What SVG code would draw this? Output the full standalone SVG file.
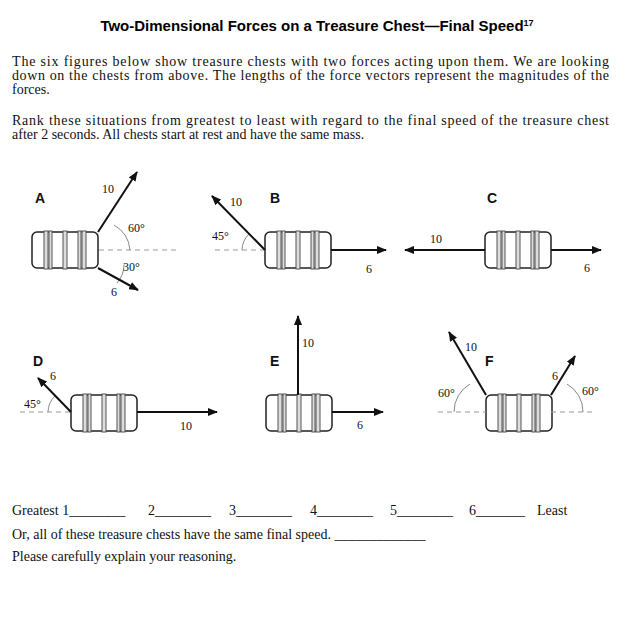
<svg xmlns="http://www.w3.org/2000/svg" width="639" height="626" viewBox="0 0 639 626">
<style>
.t{font-family:"Liberation Serif",serif;font-size:14px;fill:#111}
.s{font-family:"Liberation Serif",serif;font-size:12px;fill:#111}
.L{font-family:"Liberation Sans",sans-serif;font-size:14px;font-weight:bold;fill:#111}
.v{stroke:#111;stroke-width:2;fill:none;marker-end:url(#ah)}
.d{stroke:#999;stroke-width:1;stroke-dasharray:5,4;fill:none}
.a{stroke:#888;stroke-width:1;fill:none}
.c{fill:#fff;stroke:#222;stroke-width:1.5}
.b{fill:#ddd;stroke:#555;stroke-width:1}
</style>
<defs>
<marker id="ah" markerWidth="10" markerHeight="8" refX="9" refY="4" orient="auto" markerUnits="userSpaceOnUse" viewBox="0 0 10 8"><path d="M0,0 L10,4 L0,8 z" fill="#111"/></marker>
<g id="chest">
<rect class="c" x="0" y="0" width="66" height="36" rx="5"/>
<rect class="b" x="12" y="-1" width="4" height="38"/><rect class="b" x="17" y="-1" width="3" height="38"/>
<rect class="b" x="31" y="-1" width="4" height="38"/>
<rect class="b" x="46" y="-1" width="3" height="38"/><rect class="b" x="50" y="-1" width="4" height="38"/>
</g>
</defs>
<text x="317" y="31" text-anchor="middle" style="font-family:'Liberation Sans',sans-serif;font-size:15px;font-weight:bold">Two-Dimensional Forces on a Treasure Chest—Final Speed<tspan font-size="9" dy="-5">17</tspan></text>
<text class="t" x="12" y="66" textLength="597" lengthAdjust="spacing">The six figures below show treasure chests with two forces acting upon them. We are looking</text>
<text class="t" x="12" y="80" textLength="597" lengthAdjust="spacing">down on the chests from above. The lengths of the force vectors represent the magnitudes of the</text>
<text class="t" x="12" y="94">forces.</text>
<text class="t" x="12" y="125" textLength="597" lengthAdjust="spacing">Rank these situations from greatest to least with regard to the final speed of the treasure chest</text>
<text class="t" x="12" y="139">after 2 seconds. All chests start at rest and have the same mass.</text>
<g id="A">
<text class="L" x="35" y="203">A</text>
<use href="#chest" x="32" y="232"/>
<path class="d" d="M99,250 H180"/>
<path class="a" d="M114,225 A32,32 0 0 1 130,250 M124,265 A28,28 0 0 1 117,283"/>
<path class="v" d="M98,232 L137,172"/>
<path class="v" d="M98,268 L138,290"/>
<text class="s" x="102" y="193">10</text><text class="s" x="128" y="232">60°</text>
<text class="s" x="123" y="271">30°</text><text class="s" x="111" y="296">6</text>
</g>
<g id="B">
<text class="L" x="270" y="203">B</text>
<use href="#chest" x="265" y="232"/>
<path class="d" d="M215,250 H265"/>
<path class="a" d="M242,250 A23,23 0 0 1 249,234"/>
<path class="v" d="M265,250 L212,196"/>
<path class="v" d="M331,250 L386,250"/>
<text class="s" x="230" y="206">10</text><text class="s" x="212" y="240">45°</text><text class="s" x="366" y="273">6</text>
</g>
<g id="C">
<text class="L" x="487" y="203">C</text>
<use href="#chest" x="485" y="232"/>
<path class="v" d="M485,250 L405,250"/>
<path class="v" d="M551,250 L601,250"/>
<text class="s" x="430" y="243">10</text><text class="s" x="584" y="272">6</text>
</g>
<g id="D">
<text class="L" x="33" y="366">D</text>
<use href="#chest" x="71" y="395"/>
<path class="d" d="M20,412 H71"/>
<path class="a" d="M48,412 A23,23 0 0 1 55,396"/>
<path class="v" d="M71,412 L38,378"/>
<path class="v" d="M137,412 L217,412"/>
<text class="s" x="50" y="380">6</text><text class="s" x="24" y="408">45°</text><text class="s" x="180" y="430">10</text>
</g>
<g id="E">
<text class="L" x="270" y="366">E</text>
<use href="#chest" x="266" y="395"/>
<path class="v" d="M298,395 L298,316"/>
<path class="v" d="M332,412 L383,412"/>
<text class="s" x="302" y="347">10</text><text class="s" x="357" y="429">6</text>
</g>
<g id="F">
<text class="L" x="485" y="366">F</text>
<use href="#chest" x="486" y="395"/>
<path class="d" d="M438,412 H486 M551,412 H596"/>
<path class="a" d="M454,412 A32,32 0 0 1 470,384 M583,412 A32,32 0 0 0 567,384"/>
<path class="v" d="M486,395 L449,332"/>
<path class="v" d="M551,395 L575,356"/>
<text class="s" x="465" y="351">10</text><text class="s" x="438" y="397">60°</text>
<text class="s" x="552" y="380">6</text><text class="s" x="582" y="395">60°</text>
</g>
<text class="t" y="515"><tspan x="12">Greatest 1________</tspan><tspan x="148">2________</tspan><tspan x="229">3________</tspan><tspan x="310">4________</tspan><tspan x="390">5________</tspan><tspan x="469">6_______</tspan><tspan x="537">Least</tspan></text>
<text class="t" x="12" y="539">Or, all of these treasure chests have the same final speed. _____________</text>
<text class="t" x="12" y="561">Please carefully explain your reasoning.</text>
</svg>
